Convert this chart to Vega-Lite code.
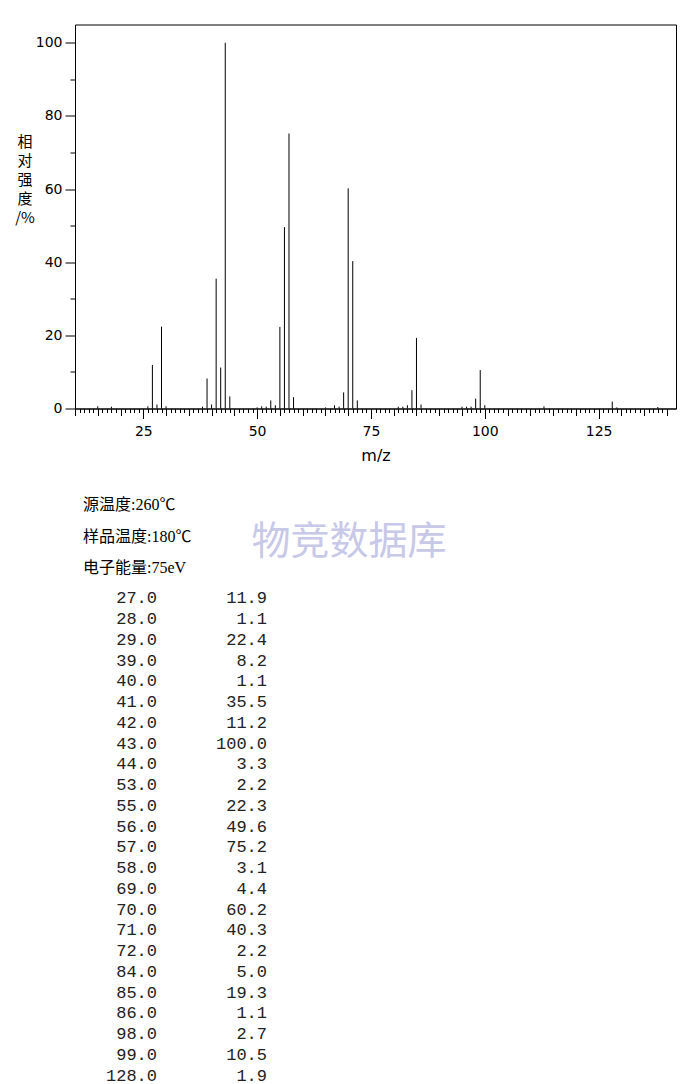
{
  "$schema": "https://vega.github.io/schema/vega-lite/v6.json",
  "width": 601,
  "height": 384,
  "autosize": {"type": "none"},
  "padding": {"left": 75, "top": 24.5, "right": 23, "bottom": 675.5},
  "background": "white",
  "config": {
    "view": {"stroke": "#000", "strokeWidth": 1},
    "axis": {"grid": false, "domainColor": "#000", "tickColor": "#000", "labelColor": "#000", "titleColor": "#000", "domainWidth": 1, "tickWidth": 1}
  },
  "datasets": {
    "spectrum": [
      {"mz": 15, "intensity": 0.6},
      {"mz": 18, "intensity": 0.5},
      {"mz": 26, "intensity": 0.6},
      {"mz": 27, "intensity": 11.9},
      {"mz": 28, "intensity": 1.1},
      {"mz": 29, "intensity": 22.4},
      {"mz": 30, "intensity": 0.6},
      {"mz": 38, "intensity": 0.5},
      {"mz": 39, "intensity": 8.2},
      {"mz": 40, "intensity": 1.1},
      {"mz": 41, "intensity": 35.5},
      {"mz": 42, "intensity": 11.2},
      {"mz": 43, "intensity": 100.0},
      {"mz": 44, "intensity": 3.3},
      {"mz": 50, "intensity": 0.3},
      {"mz": 51, "intensity": 0.6},
      {"mz": 52, "intensity": 0.5},
      {"mz": 53, "intensity": 2.2},
      {"mz": 54, "intensity": 0.9},
      {"mz": 55, "intensity": 22.3},
      {"mz": 56, "intensity": 49.6},
      {"mz": 57, "intensity": 75.2},
      {"mz": 58, "intensity": 3.1},
      {"mz": 65, "intensity": 0.3},
      {"mz": 67, "intensity": 0.9},
      {"mz": 68, "intensity": 0.5},
      {"mz": 69, "intensity": 4.4},
      {"mz": 70, "intensity": 60.2},
      {"mz": 71, "intensity": 40.3},
      {"mz": 72, "intensity": 2.2},
      {"mz": 81, "intensity": 0.5},
      {"mz": 82, "intensity": 0.5},
      {"mz": 83, "intensity": 0.9},
      {"mz": 84, "intensity": 5.0},
      {"mz": 85, "intensity": 19.3},
      {"mz": 86, "intensity": 1.1},
      {"mz": 95, "intensity": 0.5},
      {"mz": 96, "intensity": 0.5},
      {"mz": 97, "intensity": 0.5},
      {"mz": 98, "intensity": 2.7},
      {"mz": 99, "intensity": 10.5},
      {"mz": 100, "intensity": 0.9},
      {"mz": 113, "intensity": 0.6},
      {"mz": 128, "intensity": 1.9},
      {"mz": 129, "intensity": 0.3},
      {"mz": 138, "intensity": 0.4}
    ],
    "conditions": [
      {"label": "源温度:260℃"},
      {"label": "样品温度:180℃"},
      {"label": "电子能量:75eV"}
    ],
    "watermark": [
      {"label": "物竞数据库"}
    ]
  },
  "layer": [
    {
      "data": {"name": "spectrum"},
      "mark": {"type": "rule", "color": "#000", "strokeWidth": 1},
      "encoding": {
        "x": {
          "field": "mz", "type": "quantitative",
          "scale": {"domain": [10, 142], "nice": false, "zero": false},
          "axis": {
            "values": [10,11,12,13,14,15,16,17,18,19,20,21,22,23,24,25,26,27,28,29,30,31,32,33,34,35,36,37,38,39,40,41,42,43,44,45,46,47,48,49,50,51,52,53,54,55,56,57,58,59,60,61,62,63,64,65,66,67,68,69,70,71,72,73,74,75,76,77,78,79,80,81,82,83,84,85,86,87,88,89,90,91,92,93,94,95,96,97,98,99,100,101,102,103,104,105,106,107,108,109,110,111,112,113,114,115,116,117,118,119,120,121,122,123,124,125,126,127,128,129,130,131,132,133,134,135,136,137,138,139,140],
            "tickSize": {"condition": [{"test": "datum.value % 25 === 0", "value": 10}, {"test": "datum.value % 5 === 0", "value": 7}], "value": 4},
            "labelExpr": "datum.value % 25 === 0 ? datum.label : ''",
            "labelOverlap": false,
            "labelFlush": false,
            "labelPadding": 6,
            "labelFont": "DejaVu Sans",
            "labelFontSize": 14,
            "title": "m/z",
            "titleFont": "DejaVu Sans",
            "titleFontSize": 16,
            "titleFontWeight": "normal",
            "titleY": 47,
            "titleBaseline": "middle"
          }
        },
        "y": {
          "field": "intensity", "type": "quantitative",
          "scale": {"domain": [0, 105], "nice": false},
          "axis": {
            "values": [0, 10, 20, 30, 40, 50, 60, 70, 80, 90, 100],
            "tickSize": {"condition": {"test": "datum.value % 20 === 0", "value": 10}, "value": 5},
            "labelExpr": "datum.value % 20 === 0 ? datum.label : ''",
            "labelOverlap": false,
            "labelFlush": false,
            "labelPadding": 3,
            "labelFont": "DejaVu Sans",
            "labelFontSize": 14,
            "title": ["相", "对", "强", "度", "/%"],
            "titleFont": "Noto Sans CJK SC",
            "titleFontSize": 15,
            "titleFontWeight": "normal",
            "titleAngle": 0,
            "titleAlign": "center",
            "titleBaseline": "middle",
            "titleLineHeight": 19,
            "titleX": -50.5,
            "titleY": 117
          }
        },
        "y2": {"datum": 0}
      }
    },
    {
      "data": {"name": "watermark"},
      "mark": {"type": "text", "align": "center", "baseline": "middle", "font": "Noto Sans CJK SC", "fontSize": 39, "color": "#c8c8e8"},
      "encoding": {
        "x": {"value": 274},
        "y": {"value": 517.5},
        "text": {"field": "label", "type": "nominal"}
      }
    },
    {
      "data": {"name": "conditions"},
      "mark": {"type": "text", "align": "left", "baseline": "middle", "font": "'Liberation Serif', 'Noto Sans CJK SC'", "fontSize": 16, "color": "#000"},
      "encoding": {
        "x": {"value": 8},
        "y": {"field": "label", "type": "ordinal", "sort": null, "scale": {"type": "point", "range": [480.5, 543.5], "padding": 0}, "axis": null},
        "text": {"field": "label", "type": "nominal"}
      }
    },
    {
      "data": {"name": "spectrum"},
      "transform": [
        {"filter": "datum.intensity >= 1"},
        {"fold": ["mz", "intensity"], "as": ["column", "value"]}
      ],
      "mark": {"type": "text", "align": "right", "baseline": "middle", "font": "Liberation Mono", "fontSize": 17, "color": "#222"},
      "encoding": {
        "x": {"field": "column", "type": "nominal", "scale": {"type": "point", "domain": ["mz", "intensity"], "range": [82, 192], "padding": 0}, "axis": null},
        "y": {"field": "mz", "type": "ordinal", "scale": {"type": "point", "range": [573.8, 1051], "padding": 0}, "axis": null},
        "text": {"field": "value", "type": "quantitative", "format": ".1f"}
      }
    }
  ],
  "resolve": {"scale": {"x": "independent", "y": "independent"}}
}
